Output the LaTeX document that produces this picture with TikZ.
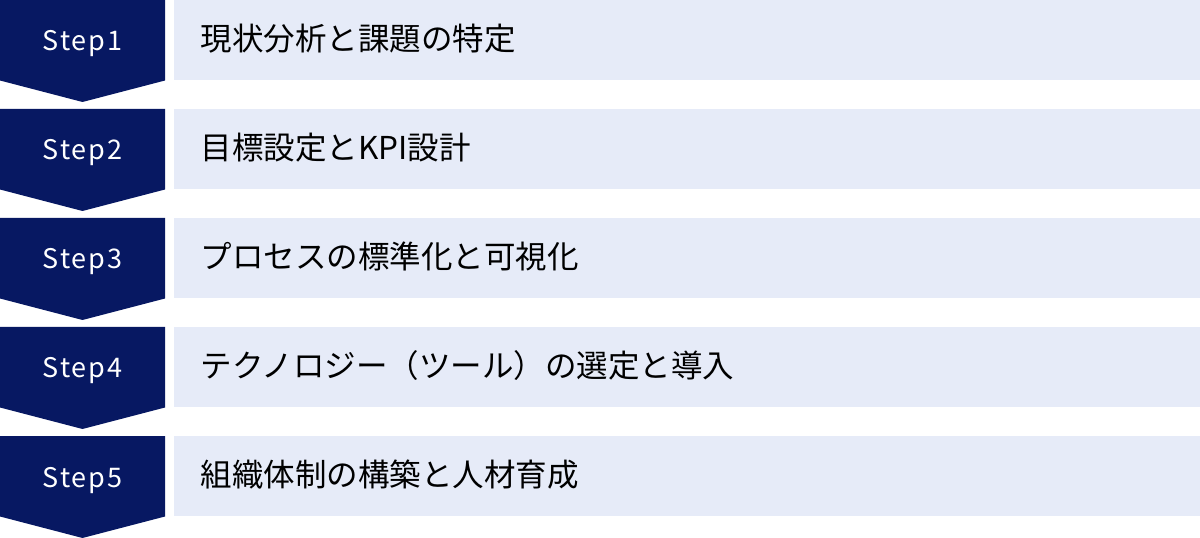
\documentclass[tikz,border=0pt]{standalone}
\usepackage{fontspec}
\newfontfamily\jpfont{Noto Sans CJK JP}
\newfontfamily\stepfont[LetterSpace=7]{Noto Sans CJK JP}
\definecolor{navy}{RGB}{7,24,98}
\definecolor{pale}{RGB}{230,235,248}
\tikzset{
  stepshape/.style={fill=navy,draw=none},
  stepbar/.style={fill=pale,draw=none},
  steplabel/.style={text=white,font=\stepfont\fontsize{27bp}{30bp}\selectfont,inner sep=0pt,anchor=base},
  steptext/.style={text=black,font=\jpfont\fontsize{31.5bp}{34bp}\selectfont,inner sep=0pt,anchor=base west}
}
\begin{document}
\begin{tikzpicture}[x=1bp,y=-1bp]
\useasboundingbox (0,0) rectangle (1200,538);
\foreach \i/\t in {1/現状分析と課題の特定,2/目標設定とKPI設計,3/プロセスの標準化と可視化,4/テクノロジー（ツール）の選定と導入,5/組織体制の構築と人材育成}{
  \pgfmathsetmacro{\y}{(\i-1)*109}
  \fill[stepshape] (0,\y) -- (165,\y) -- (165,\y+80.5) -- (82.5,\y+102) -- (0,\y+80.5) -- cycle;
  \fill[stepbar] (174,\y) rectangle (1200,\y+80);
  \node[steplabel] (s\i) at (82.5,\y+51) {Step\i};
  \node[steptext] (t\i) at (200.5,\y+50.5) {\t};
}
\end{tikzpicture}
\end{document}
